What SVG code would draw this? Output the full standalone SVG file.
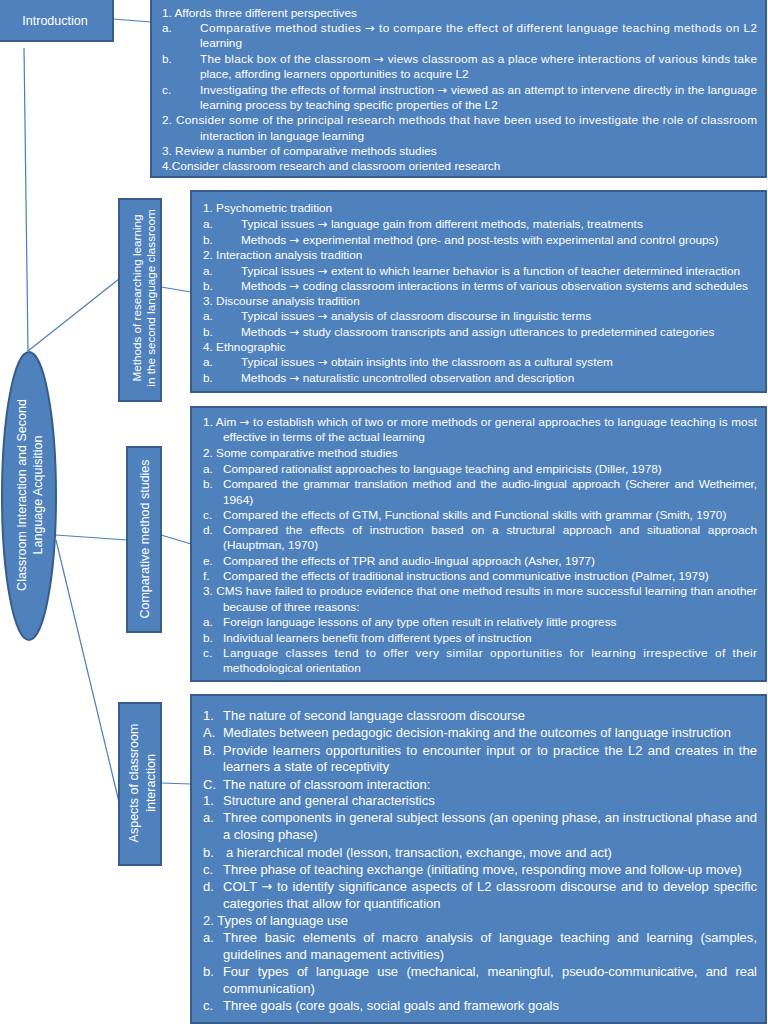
<svg xmlns="http://www.w3.org/2000/svg" width="768" height="1024" viewBox="0 0 768 1024">
<style>
.box{fill:#4f81bd;stroke:#385d8a;stroke-width:2}
.conn{stroke:#4a7ebb;stroke-width:1.2;fill:none}
text{font-family:"Liberation Sans",Arial,sans-serif;fill:#ffffff}
.t{font-size:11.8px}
.t2{font-size:13px}
.lbl{font-size:12.5px;text-anchor:middle}
.lbs{font-size:11.7px;text-anchor:middle}
.ar{font-family:"DejaVu Sans",sans-serif}
</style>
<rect width="768" height="1024" fill="#ffffff"/>
<g id="connectors">
<line class="conn" x1="113" y1="19" x2="151" y2="22"/>
<line class="conn" x1="24" y1="48" x2="28" y2="351"/>
<line class="conn" x1="28" y1="351" x2="119" y2="279"/>
<line class="conn" x1="161" y1="287" x2="191" y2="292"/>
<line class="conn" x1="56" y1="535" x2="127" y2="540"/>
<line class="conn" x1="161" y1="535" x2="191" y2="544"/>
<line class="conn" x1="56" y1="540" x2="119" y2="802"/>
<line class="conn" x1="161" y1="783" x2="191" y2="784"/>
</g>
<g id="introduction">
<rect class="box" x="-2" y="-2" width="115" height="43"/>
<text class="lbl" x="55" y="25">Introduction</text>
</g>
<g id="intro-text">
<rect class="box" x="151" y="-2" width="615" height="179"/>
<g class="t">
<text x="162" y="17">1. Affords three different perspectives</text>
<text x="162" y="32">a.</text><text x="200" y="32" textLength="557" lengthAdjust="spacing">Comparative method studies <tspan class="ar">→</tspan> to compare the effect of different language teaching methods on L2</text>
<text x="200" y="47">learning</text>
<text x="162" y="63">b.</text><text x="200" y="63" textLength="557" lengthAdjust="spacing">The black box of the classroom <tspan class="ar">→</tspan> views classroom as a place where interactions of various kinds take</text>
<text x="200" y="78">place, affording learners opportunities to acquire L2</text>
<text x="162" y="93.5">c.</text><text x="200" y="93.5" textLength="557" lengthAdjust="spacing">Investigating the effects of formal instruction <tspan class="ar">→</tspan> viewed as an attempt to intervene directly in the language</text>
<text x="200" y="109">learning process by teaching specific properties of the L2</text>
<text x="162" y="124" textLength="595" lengthAdjust="spacing">2. Consider some of the principal research methods that have been used to investigate the role of classroom</text>
<text x="200" y="139.5">interaction in language learning</text>
<text x="162" y="154.5">3. Review a number of comparative methods studies</text>
<text x="162" y="170">4.Consider classroom research and classroom oriented research</text>
</g>
</g>
<g id="classroom-interaction">
<ellipse class="box" cx="29" cy="496" rx="27" ry="144"/>
<text class="lbl" transform="translate(26,495) rotate(-90)">Classroom Interaction and Second</text>
<text class="lbl" transform="translate(42,495) rotate(-90)">Language Acquisition</text>
</g>
<g id="methods-label">
<rect class="box" x="119" y="199" width="42" height="202"/>
<text class="lbs" transform="translate(141,298) rotate(-90)">Methods of researching learning</text>
<text class="lbs" transform="translate(155,298) rotate(-90)">in the second language classroom</text>
</g>
<g id="methods-text">
<rect class="box" x="191" y="191" width="575" height="201"/>
<g class="t">
<text x="203" y="212">1. Psychometric tradition</text>
<text x="203" y="228">a.</text><text x="241" y="228">Typical issues <tspan class="ar">→</tspan> language gain from different methods, materials, treatments</text>
<text x="203" y="243.5">b.</text><text x="241" y="243.5">Methods <tspan class="ar">→</tspan> experimental method (pre- and post-tests with experimental and control groups)</text>
<text x="203" y="258.5">2. Interaction analysis tradition</text>
<text x="203" y="274.5">a.</text><text x="241" y="274.5">Typical issues <tspan class="ar">→</tspan> extent to which learner behavior is a function of teacher determined interaction</text>
<text x="203" y="290">b.</text><text x="241" y="290">Methods <tspan class="ar">→</tspan> coding classroom interactions in terms of various observation systems and schedules</text>
<text x="203" y="304.5">3. Discourse analysis tradition</text>
<text x="203" y="320">a.</text><text x="241" y="320">Typical issues <tspan class="ar">→</tspan> analysis of classroom discourse in linguistic terms</text>
<text x="203" y="335.5">b.</text><text x="241" y="335.5">Methods <tspan class="ar">→</tspan> study classroom transcripts and assign utterances to predetermined categories</text>
<text x="203" y="350.5">4. Ethnographic</text>
<text x="203" y="366">a.</text><text x="241" y="366">Typical issues <tspan class="ar">→</tspan> obtain insights into the classroom as a cultural system</text>
<text x="203" y="382">b.</text><text x="241" y="382">Methods <tspan class="ar">→</tspan> naturalistic uncontrolled observation and description</text>
</g>
</g>
<g id="comparative-label">
<rect class="box" x="127" y="447" width="34" height="185"/>
<text class="lbl" transform="translate(149,539) rotate(-90)">Comparative method studies</text>
</g>
<g id="comparative-text">
<rect class="box" x="191" y="407" width="575" height="274"/>
<g class="t">
<text x="203" y="426" textLength="554" lengthAdjust="spacing">1. Aim <tspan class="ar">→</tspan> to establish which of two or more methods or general approaches to language teaching is most</text>
<text x="223" y="441">effective in terms of the actual learning</text>
<text x="203" y="457">2. Some comparative method studies</text>
<text x="203" y="473">a.</text><text x="223" y="473">Compared rationalist approaches to language teaching and empiricists (Diller, 1978)</text>
<text x="203" y="488">b.</text><text x="223" y="488" word-spacing="2" textLength="534" lengthAdjust="spacing">Compared the grammar translation method and the audio-lingual approach (Scherer and Wetheimer,</text>
<text x="223" y="503.5">1964)</text>
<text x="203" y="519">c.</text><text x="223" y="519">Compared the effects of GTM, Functional skills and Functional skills with grammar (Smith, 1970)</text>
<text x="203" y="534">d.</text><text x="223" y="534" word-spacing="4.5" textLength="534" lengthAdjust="spacing">Compared the effects of instruction based on a structural approach and situational approach</text>
<text x="223" y="549">(Hauptman, 1970)</text>
<text x="203" y="564.5">e.</text><text x="223" y="564.5">Compared the effects of TPR and audio-lingual approach (Asher, 1977)</text>
<text x="203" y="579.5">f.</text><text x="223" y="579.5">Compared the effects of traditional instructions and communicative instruction (Palmer, 1979)</text>
<text x="203" y="595" textLength="554" lengthAdjust="spacing">3. CMS have failed to produce evidence that one method results in more successful learning than another</text>
<text x="223" y="610.5">because of three reasons:</text>
<text x="203" y="626">a.</text><text x="223" y="626">Foreign language lessons of any type often result in relatively little progress</text>
<text x="203" y="641.5">b.</text><text x="223" y="641.5">Individual learners benefit from different types of instruction</text>
<text x="203" y="657">c.</text><text x="223" y="657" word-spacing="3.3" textLength="534" lengthAdjust="spacing">Language classes tend to offer very similar opportunities for learning irrespective of their</text>
<text x="223" y="672">methodological orientation</text>
</g>
</g>
<g id="aspects-label">
<rect class="box" x="119" y="703" width="42" height="162"/>
<text class="lbl" transform="translate(138,783) rotate(-90)">Aspects of classroom</text>
<text class="lbl" transform="translate(155,783) rotate(-90)">interaction</text>
</g>
<g id="aspects-text">
<rect class="box" x="191" y="695" width="575" height="328"/>
<g class="t2">
<text x="203" y="720">1.</text><text x="223" y="720">The nature of second language classroom discourse</text>
<text x="203" y="737">A.</text><text x="223" y="737">Mediates between pedagogic decision-making and the outcomes of language instruction</text>
<text x="203" y="754.5">B.</text><text x="223" y="754.5" word-spacing="1.5" textLength="534" lengthAdjust="spacing">Provide learners opportunities to encounter input or to practice the L2 and creates in the</text>
<text x="223" y="771">learners a state of receptivity</text>
<text x="203" y="788.5">C.</text><text x="223" y="788.5">The nature of classroom interaction:</text>
<text x="203" y="805">1.</text><text x="223" y="805">Structure and general characteristics</text>
<text x="203" y="822">a.</text><text x="223" y="822" textLength="534" lengthAdjust="spacing">Three components in general subject lessons (an opening phase, an instructional phase and</text>
<text x="223" y="839">a closing phase)</text>
<text x="203" y="856.5">b.</text><text x="226" y="856.5">a hierarchical model (lesson, transaction, exchange, move and act)</text>
<text x="203" y="873.5">c.</text><text x="223" y="873.5">Three phase of teaching exchange (initiating move, responding move and follow-up move)</text>
<text x="203" y="891">d.</text><text x="223" y="891" word-spacing="1" textLength="534" lengthAdjust="spacing">COLT <tspan class="ar">→</tspan> to identify significance aspects of L2 classroom discourse and to develop specific</text>
<text x="223" y="908">categories that allow for quantification</text>
<text x="203" y="924.5">2. Types of language use</text>
<text x="203" y="942">a.</text><text x="223" y="942" word-spacing="4" textLength="534" lengthAdjust="spacing">Three basic elements of macro analysis of language teaching and learning (samples,</text>
<text x="223" y="959">guidelines and management activities)</text>
<text x="203" y="976">b.</text><text x="223" y="976" word-spacing="5" textLength="534" lengthAdjust="spacing">Four types of language use (mechanical, meaningful, pseudo-communicative, and real</text>
<text x="223" y="993">communication)</text>
<text x="203" y="1010">c.</text><text x="223" y="1010">Three goals (core goals, social goals and framework goals</text>
</g>
</g>
</svg>
